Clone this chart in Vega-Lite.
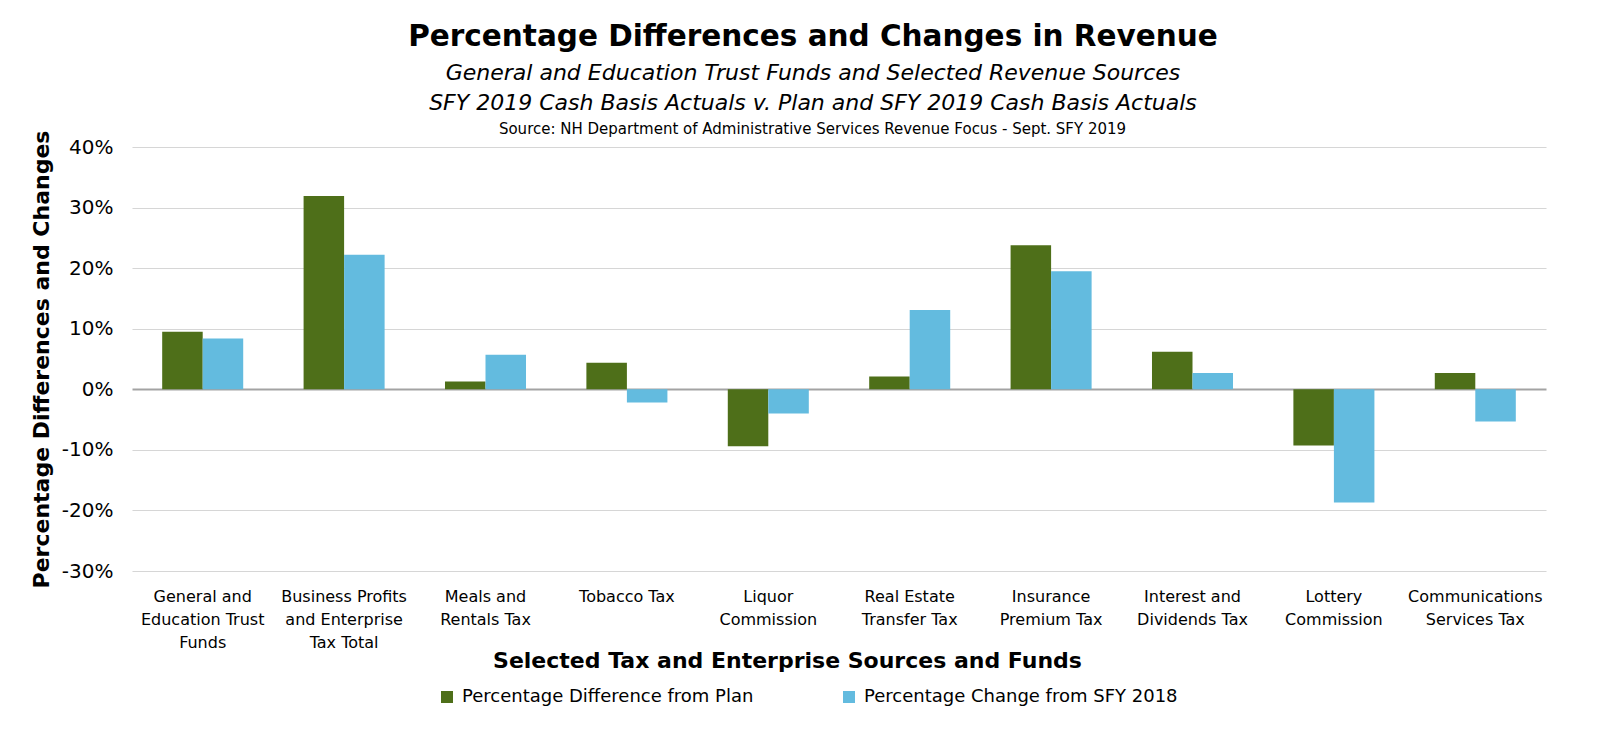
{
  "$schema": "https://vega.github.io/schema/vega-lite/v6.json",
  "width": 1414,
  "height": 424,
  "autosize": {"type": "none"},
  "padding": {"left": 132, "top": 147, "right": 61, "bottom": 161},
  "background": "white",
  "config": {
    "font": "DejaVu Sans",
    "view": {"stroke": null},
    "axis": {"labelColor": "#000000", "titleColor": "#000000"}
  },
  "title": {
    "text": "Percentage Differences and Changes in Revenue",
    "subtitle": [
      "General and Education Trust Funds and Selected Revenue Sources",
      "SFY 2019 Cash Basis Actuals v. Plan and SFY 2019 Cash Basis Actuals"
    ],
    "anchor": "middle",
    "frame": "group",
    "dx": -26,
    "fontSize": 29.5,
    "fontWeight": "bold",
    "color": "#000000",
    "subtitleFontSize": 22,
    "subtitleFontStyle": "italic",
    "subtitleColor": "#000000",
    "subtitleLineHeight": 30,
    "subtitlePadding": 11,
    "offset": 6
  },
  "data": {
    "values": [
      {"source": "General and Education Trust Funds", "series": "Percentage Difference from Plan", "pct": 9.5},
      {"source": "General and Education Trust Funds", "series": "Percentage Change from SFY 2018", "pct": 8.4},
      {"source": "Business Profits and Enterprise Tax Total", "series": "Percentage Difference from Plan", "pct": 31.9},
      {"source": "Business Profits and Enterprise Tax Total", "series": "Percentage Change from SFY 2018", "pct": 22.2},
      {"source": "Meals and Rentals Tax", "series": "Percentage Difference from Plan", "pct": 1.3},
      {"source": "Meals and Rentals Tax", "series": "Percentage Change from SFY 2018", "pct": 5.7},
      {"source": "Tobacco Tax", "series": "Percentage Difference from Plan", "pct": 4.4},
      {"source": "Tobacco Tax", "series": "Percentage Change from SFY 2018", "pct": -2.2},
      {"source": "Liquor Commission", "series": "Percentage Difference from Plan", "pct": -9.4},
      {"source": "Liquor Commission", "series": "Percentage Change from SFY 2018", "pct": -4.0},
      {"source": "Real Estate Transfer Tax", "series": "Percentage Difference from Plan", "pct": 2.1},
      {"source": "Real Estate Transfer Tax", "series": "Percentage Change from SFY 2018", "pct": 13.1},
      {"source": "Insurance Premium Tax", "series": "Percentage Difference from Plan", "pct": 23.8},
      {"source": "Insurance Premium Tax", "series": "Percentage Change from SFY 2018", "pct": 19.5},
      {"source": "Interest and Dividends Tax", "series": "Percentage Difference from Plan", "pct": 6.2},
      {"source": "Interest and Dividends Tax", "series": "Percentage Change from SFY 2018", "pct": 2.7},
      {"source": "Lottery Commission", "series": "Percentage Difference from Plan", "pct": -9.3},
      {"source": "Lottery Commission", "series": "Percentage Change from SFY 2018", "pct": -18.7},
      {"source": "Communications Services Tax", "series": "Percentage Difference from Plan", "pct": 2.7},
      {"source": "Communications Services Tax", "series": "Percentage Change from SFY 2018", "pct": -5.3}
    ]
  },
  "encoding": {
    "y": {
      "field": "pct",
      "type": "quantitative",
      "scale": {"domain": [-30, 40], "nice": false, "zero": false},
      "axis": {
        "values": [-30, -20, -10, 0, 10, 20, 30, 40],
        "labelExpr": "datum.value + '%'",
        "labelFontSize": 20,
        "labelPadding": 19,
        "ticks": false,
        "tickSize": 0,
        "domain": false,
        "grid": true,
        "gridColor": {"condition": {"test": "datum.value === 0", "value": "#A3A3A3"}, "value": "#D6D6D6"},
        "gridWidth": {"condition": {"test": "datum.value === 0", "value": 2}, "value": 1.2},
        "title": "Percentage Differences and Changes",
        "titleFontSize": 22,
        "titleFontWeight": "bold",
        "titleAngle": -90,
        "titleBaseline": "alphabetic",
        "titleAlign": "center",
        "titleX": -84,
        "titleY": 212
      }
    },
    "xOffset": {
      "field": "series",
      "type": "nominal",
      "scale": {"domain": ["Percentage Difference from Plan", "Percentage Change from SFY 2018"], "paddingInner": 0, "paddingOuter": 0}
    },
    "color": {
      "field": "series",
      "type": "nominal",
      "scale": {"domain": ["Percentage Difference from Plan", "Percentage Change from SFY 2018"], "range": ["#4E6F19", "#63BBDF"]},
      "legend": {
        "title": null,
        "orient": "none",
        "direction": "horizontal",
        "legendX": 306,
        "legendY": 541,
        "symbolType": "square",
        "symbolSize": 144,
        "symbolStrokeWidth": 0,
        "symbolOpacity": 1,
        "labelFontSize": 18,
        "labelColor": "#000000",
        "labelOffset": 6,
        "columnPadding": 86,
        "labelLimit": 400
      }
    }
  },
  "layer": [
    {
      "transform": [{"filter": "datum.series === 'Percentage Difference from Plan'"}],
      "mark": {"type": "bar"},
      "encoding": {
        "x": {
          "field": "source",
          "type": "nominal",
          "sort": null,
          "scale": {"paddingInner": 0.427, "paddingOuter": 0.2135},
          "axis": {
            "orient": "bottom",
            "labelAngle": 0,
            "labelFontSize": 16,
            "labelLineHeight": 23,
            "labelBaseline": "alphabetic",
            "labelPadding": 30,
            "labelLimit": 0,
            "ticks": false,
            "tickSize": 0,
            "domain": false,
            "grid": false,
            "labelExpr": "{'General and Education Trust Funds': ['General and', 'Education Trust', 'Funds'], 'Business Profits and Enterprise Tax Total': ['Business Profits', 'and Enterprise', 'Tax Total'], 'Meals and Rentals Tax': ['Meals and', 'Rentals Tax'], 'Tobacco Tax': 'Tobacco Tax', 'Liquor Commission': ['Liquor', 'Commission'], 'Real Estate Transfer Tax': ['Real Estate', 'Transfer Tax'], 'Insurance Premium Tax': ['Insurance', 'Premium Tax'], 'Interest and Dividends Tax': ['Interest and', 'Dividends Tax'], 'Lottery Commission': ['Lottery', 'Commission'], 'Communications Services Tax': ['Communications', 'Services Tax']}[datum.value]",
            "title": "Selected Tax and Enterprise Sources and Funds",
            "titleFontSize": 22,
            "titleFontWeight": "bold",
            "titleBaseline": "alphabetic",
            "titleAlign": "center",
            "titleX": 655,
            "titleY": 96
          }
        }
      }
    },
    {
      "transform": [{"filter": "datum.series === 'Percentage Change from SFY 2018'"}],
      "mark": {"type": "bar"},
      "encoding": {
        "x": {
          "field": "source",
          "type": "nominal",
          "sort": null,
          "axis": {
            "orient": "top",
            "labels": false,
            "ticks": false,
            "tickSize": 0,
            "domain": false,
            "grid": false,
            "title": "Source: NH Department of Administrative Services Revenue Focus - Sept. SFY 2019",
            "titleFontSize": 15,
            "titleFontWeight": "normal",
            "titleBaseline": "alphabetic",
            "titleAlign": "center",
            "titleX": 680,
            "titleY": -14
          }
        }
      }
    }
  ],
  "resolve": {"axis": {"x": "independent"}}
}
